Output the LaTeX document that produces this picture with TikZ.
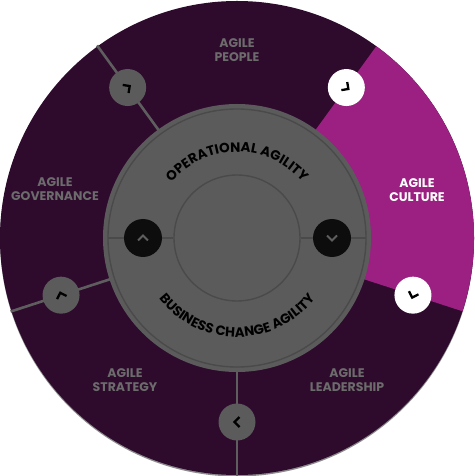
\documentclass[tikz,border=0pt]{standalone}
\usepackage{fontspec}
\setmainfont{Poppins}
\usetikzlibrary{decorations.text}
\definecolor{pur}{HTML}{2E0A2C}
\definecolor{mag}{HTML}{9B2082}
\definecolor{disc}{HTML}{5B5B5B}
\definecolor{ringc}{HTML}{4A4A4A}
\definecolor{divl}{HTML}{5E5E5E}
\definecolor{lbl}{HTML}{6C6C6C}
\tikzset{
  lbltext/.style={align=center, font=\bfseries\fontsize{12.5}{14}\selectfont, text=lbl, inner sep=0pt},
  btn/.style={circle, minimum size=37pt, inner sep=0pt, fill=disc},
  wbtn/.style={btn, fill=white},
  kbtn/.style={circle, minimum size=38pt, inner sep=0pt, fill=black!95},
  chev/.style={line width=2.3pt, black, line cap=butt, line join=miter},
  divider/.style={line width=2.6pt, divl},
  ringline/.style={line width=1.4pt, ringc},
}
\begin{document}
\begin{tikzpicture}[x=1pt,y=1pt]
\useasboundingbox (-237,-238) rectangle (237,238);
\fill[white] (-237,-238) rectangle (237,238);
% shadow
\fill[black!45] (0,-1.5) circle (237);
% outer disc
\fill[pur] (0,0) circle (237);
\fill[mag] (0,0) -- (-18:237) arc[start angle=-18, end angle=54, radius=237] -- cycle;
% dividers
\foreach \a in {126,-90,-162} \draw[divider] (\a:130) -- (\a:238);
% central disc
\node[circle, fill=disc, minimum size=268pt, inner sep=0pt] (core) at (0,0) {};
\draw[ringline] (core.center) circle (129);
\node[circle, draw=ringc, line width=1.4pt, fill=disc, minimum size=126pt, inner sep=0pt] (hub) at (0,0) {};
\coordinate (rl) at (180:129);
\coordinate (rr) at (0:129);
\draw[ringline] (hub.west) -- (rl);
\draw[ringline] (hub.east) -- (rr);
% black buttons
\node[kbtn] (bl) at (-94,0) {};
\node[kbtn] (br) at (95,0) {};
\draw[chev, divl, line width=2pt, shift={(bl.center)}, rotate=90] (-2.5,5) -- (2.5,0) -- (-2.5,-5);
\draw[chev, divl, line width=2pt, shift={(br.center)}, rotate=-90] (-2.5,5) -- (2.5,0) -- (-2.5,-5);
% ring buttons
\node[btn]  (b1) at (126:186) {};
\node[wbtn] (b2) at (54:186) {};
\node[wbtn] (b3) at (-18:185) {};
\node[btn]  (b4) at (-90:184) {};
\node[btn]  (b5) at (-162:185) {};
\draw[chev, shift={(b1.center)}, rotate=36]   (-2.5,5) -- (2.5,0) -- (-2.5,-5);
\draw[chev, shift={(b2.center)}, rotate=-36]  (-2.5,5) -- (2.5,0) -- (-2.5,-5);
\draw[chev, shift={(b3.center)}, rotate=-108] (-2.5,5) -- (2.5,0) -- (-2.5,-5);
\draw[chev, shift={(b4.center)}, rotate=180]  (-2.5,5) -- (2.5,0) -- (-2.5,-5);
\draw[chev, shift={(b5.center)}, rotate=108]  (-2.5,5) -- (2.5,0) -- (-2.5,-5);
% labels
\node[lbltext] (people) at (0,188) {AGILE\\PEOPLE};
\node[lbltext, text=white] (culture) at (180,48) {AGILE\\CULTURE};
\node[lbltext] (gov) at (-182,49) {AGILE\\GOVERNANCE};
\node[lbltext] (strat) at (-112,-142) {AGILE\\STRATEGY};
\node[lbltext] (lead) at (110,-142) {AGILE\\LEADERSHIP};
% curved texts
\path[decorate, decoration={text along path, text align=center,
  text={|\bfseries\fontsize{13.5}{16}\selectfont|OPERATIONAL AGILITY}}]
  (150:86) arc[start angle=150, end angle=30, radius=86];
\path[decorate, decoration={text along path, text align=center,
  text={|\bfseries\fontsize{13.5}{16}\selectfont|BUSINESS CHANGE AGILITY}}]
  (-165:99) arc[start angle=-165, end angle=-15, radius=99];
\end{tikzpicture}
\end{document}
